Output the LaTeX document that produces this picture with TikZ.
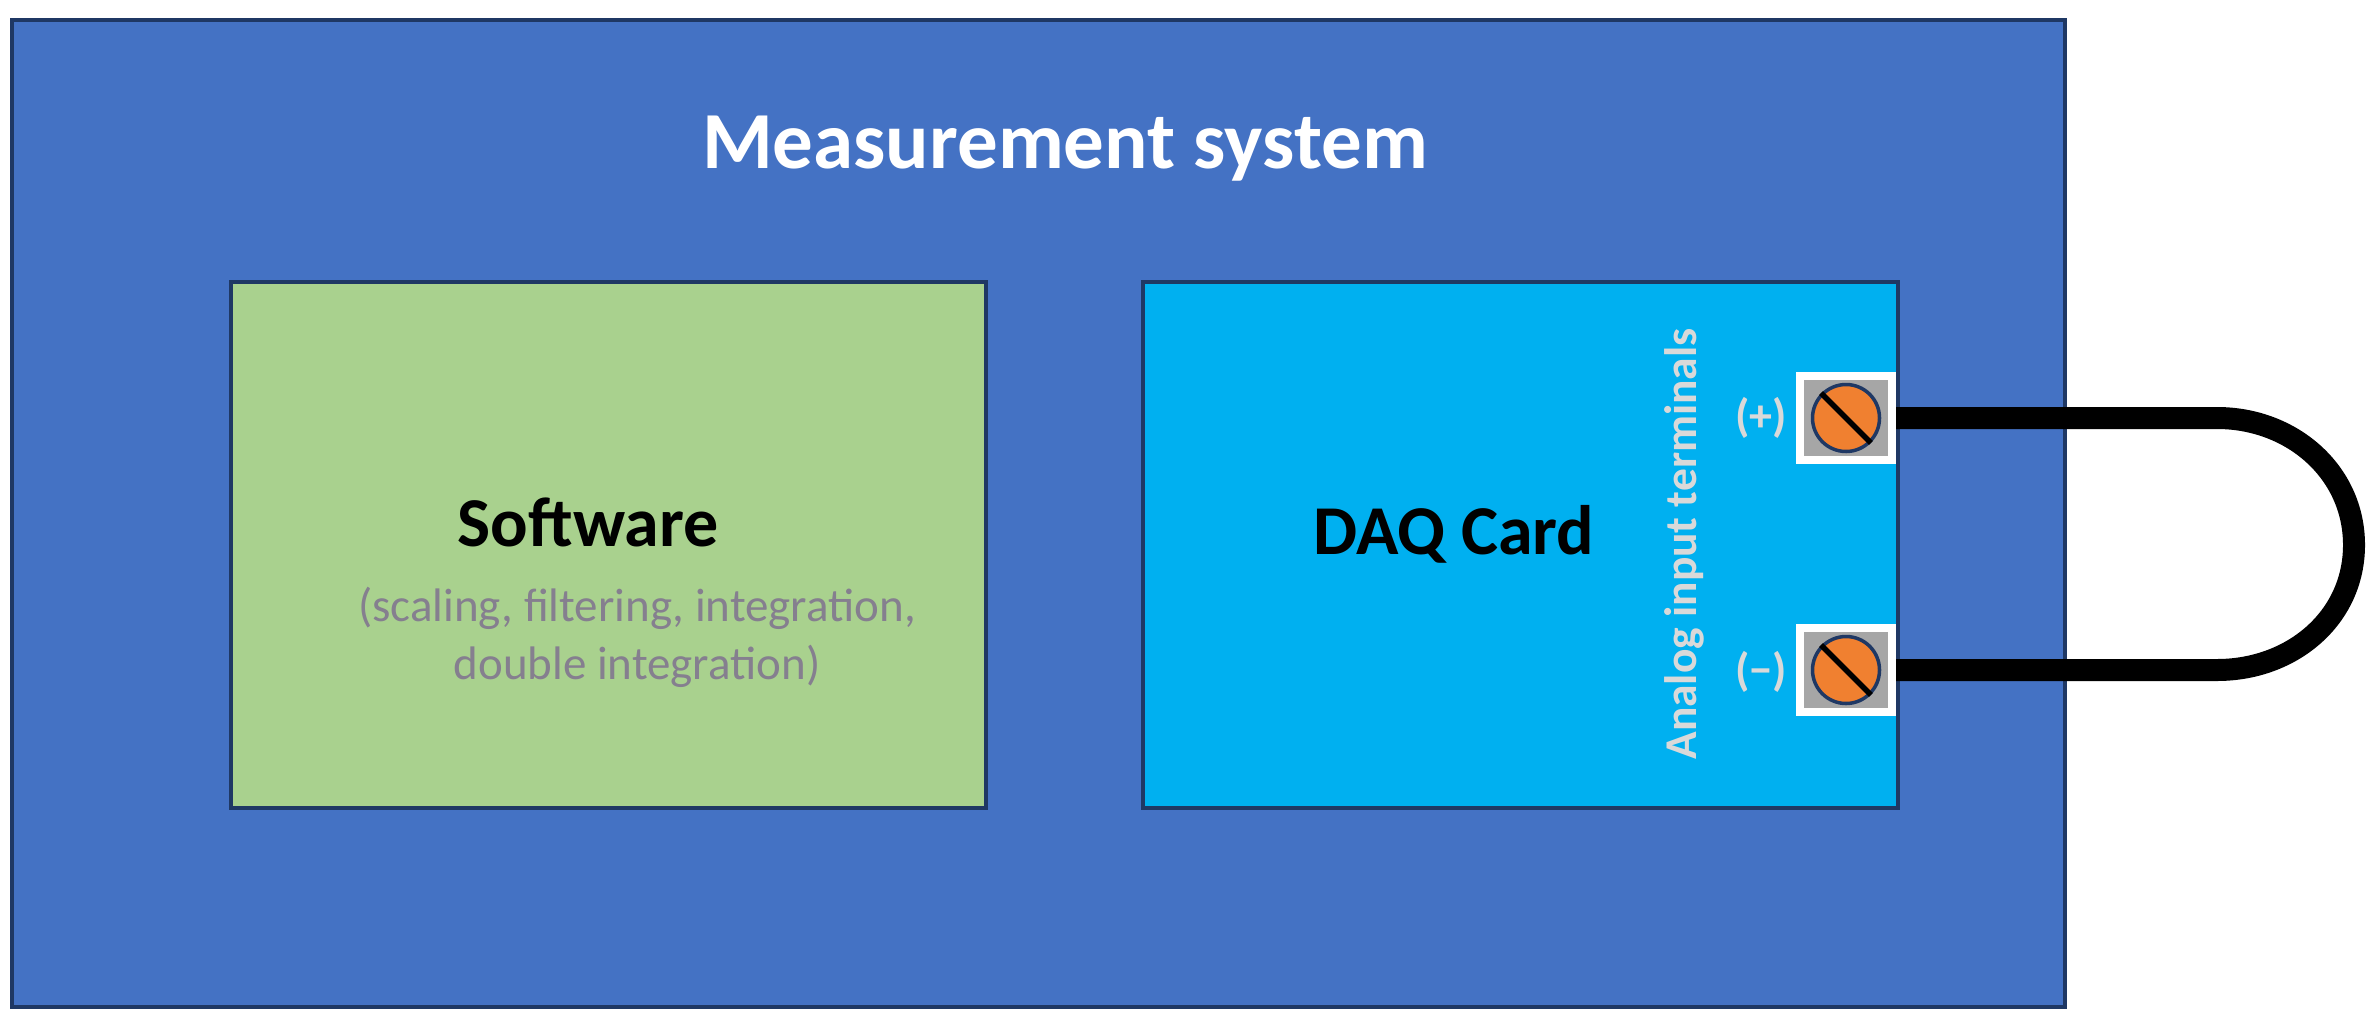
\documentclass[tikz,border=0pt]{standalone}
\usepackage{fontspec}
\setmainfont{Carlito}
\definecolor{sysblue}{HTML}{4472C4}
\definecolor{edgeblue}{HTML}{1F3864}
\definecolor{daqblue}{HTML}{00B0F0}
\definecolor{softgreen}{HTML}{A9D18E}
\definecolor{subgrey}{HTML}{857F8F}
\definecolor{lightlabel}{HTML}{D9D9D9}
\definecolor{screworange}{HTML}{F08030}
\definecolor{termgrey}{HTML}{A6A6A6}
\tikzset{
  panel/.style={draw=edgeblue,line width=3.5pt,anchor=north west,inner sep=0pt,outer sep=0pt},
  termbox/.style={fill=termgrey,draw=white,line width=8pt,minimum width=92pt,minimum height=84pt,inner sep=0pt,outer sep=4pt},
  screw/.style={circle,fill=screworange,draw=edgeblue,line width=3.5pt,minimum size=67pt,inner sep=0pt},
  slot/.style={black,line width=5.5pt},
  wire/.style={black,line width=22pt,line cap=butt},
  termlabel/.style={text=lightlabel,font=\fontsize{46}{55}\selectfont\bfseries},
}
\begin{document}
\begin{tikzpicture}[x=1pt,y=-1pt]
\useasboundingbox (0,0) rectangle (2368,1026);
\node[panel,fill=sysblue,minimum width=2053pt,minimum height=987pt] (system) at (12,20) {};
\node[panel,fill=softgreen,minimum width=755pt,minimum height=526pt] (software) at (231,282) {};
\node[panel,fill=daqblue,minimum width=755pt,minimum height=526pt] (daq) at (1143,282) {};
\node[text=white,font=\fontsize{81}{97}\selectfont\bfseries] (title) at (1065,149) {Measurement system};
\node[text=black,font=\fontsize{70}{84}\selectfont\bfseries] (softlabel) at (588,522) {Software};
\node[text=subgrey,font=\fontsize{47}{58}\selectfont,align=center] (softsub) at (637,637) {(scaling, filtering, integration,\\double integration)};
\node[text=black,font=\fontsize{70}{84}\selectfont\bfseries] (daqlabel) at (1454,534) {DAQ Card};
\node[text=lightlabel,font=\fontsize{45.5}{55}\selectfont\bfseries,rotate=90] (analog) at (1684,544) {Analog input terminals};
\node[termbox] (tplus) at (1846,418) {};
\node[termbox] (tminus) at (1846,670) {};
\node[screw] (splus) at (tplus) {};
\node[screw] (sminus) at (tminus) {};
\draw[slot] (splus.135) -- (splus.-45);
\draw[slot] (sminus.135) -- (sminus.-45);
\node[termlabel] (plus) at (1761,418) {(+)};
\node[termlabel] (minus) at (1761,672) {(−)};
\draw[wire] (tplus.east) -- (2217,418) .. controls (2292,418) and (2354,472) .. (2354,545) .. controls (2354,618) and (2292,670) .. (2217,670) -- (tminus.east);
\end{tikzpicture}
\end{document}
